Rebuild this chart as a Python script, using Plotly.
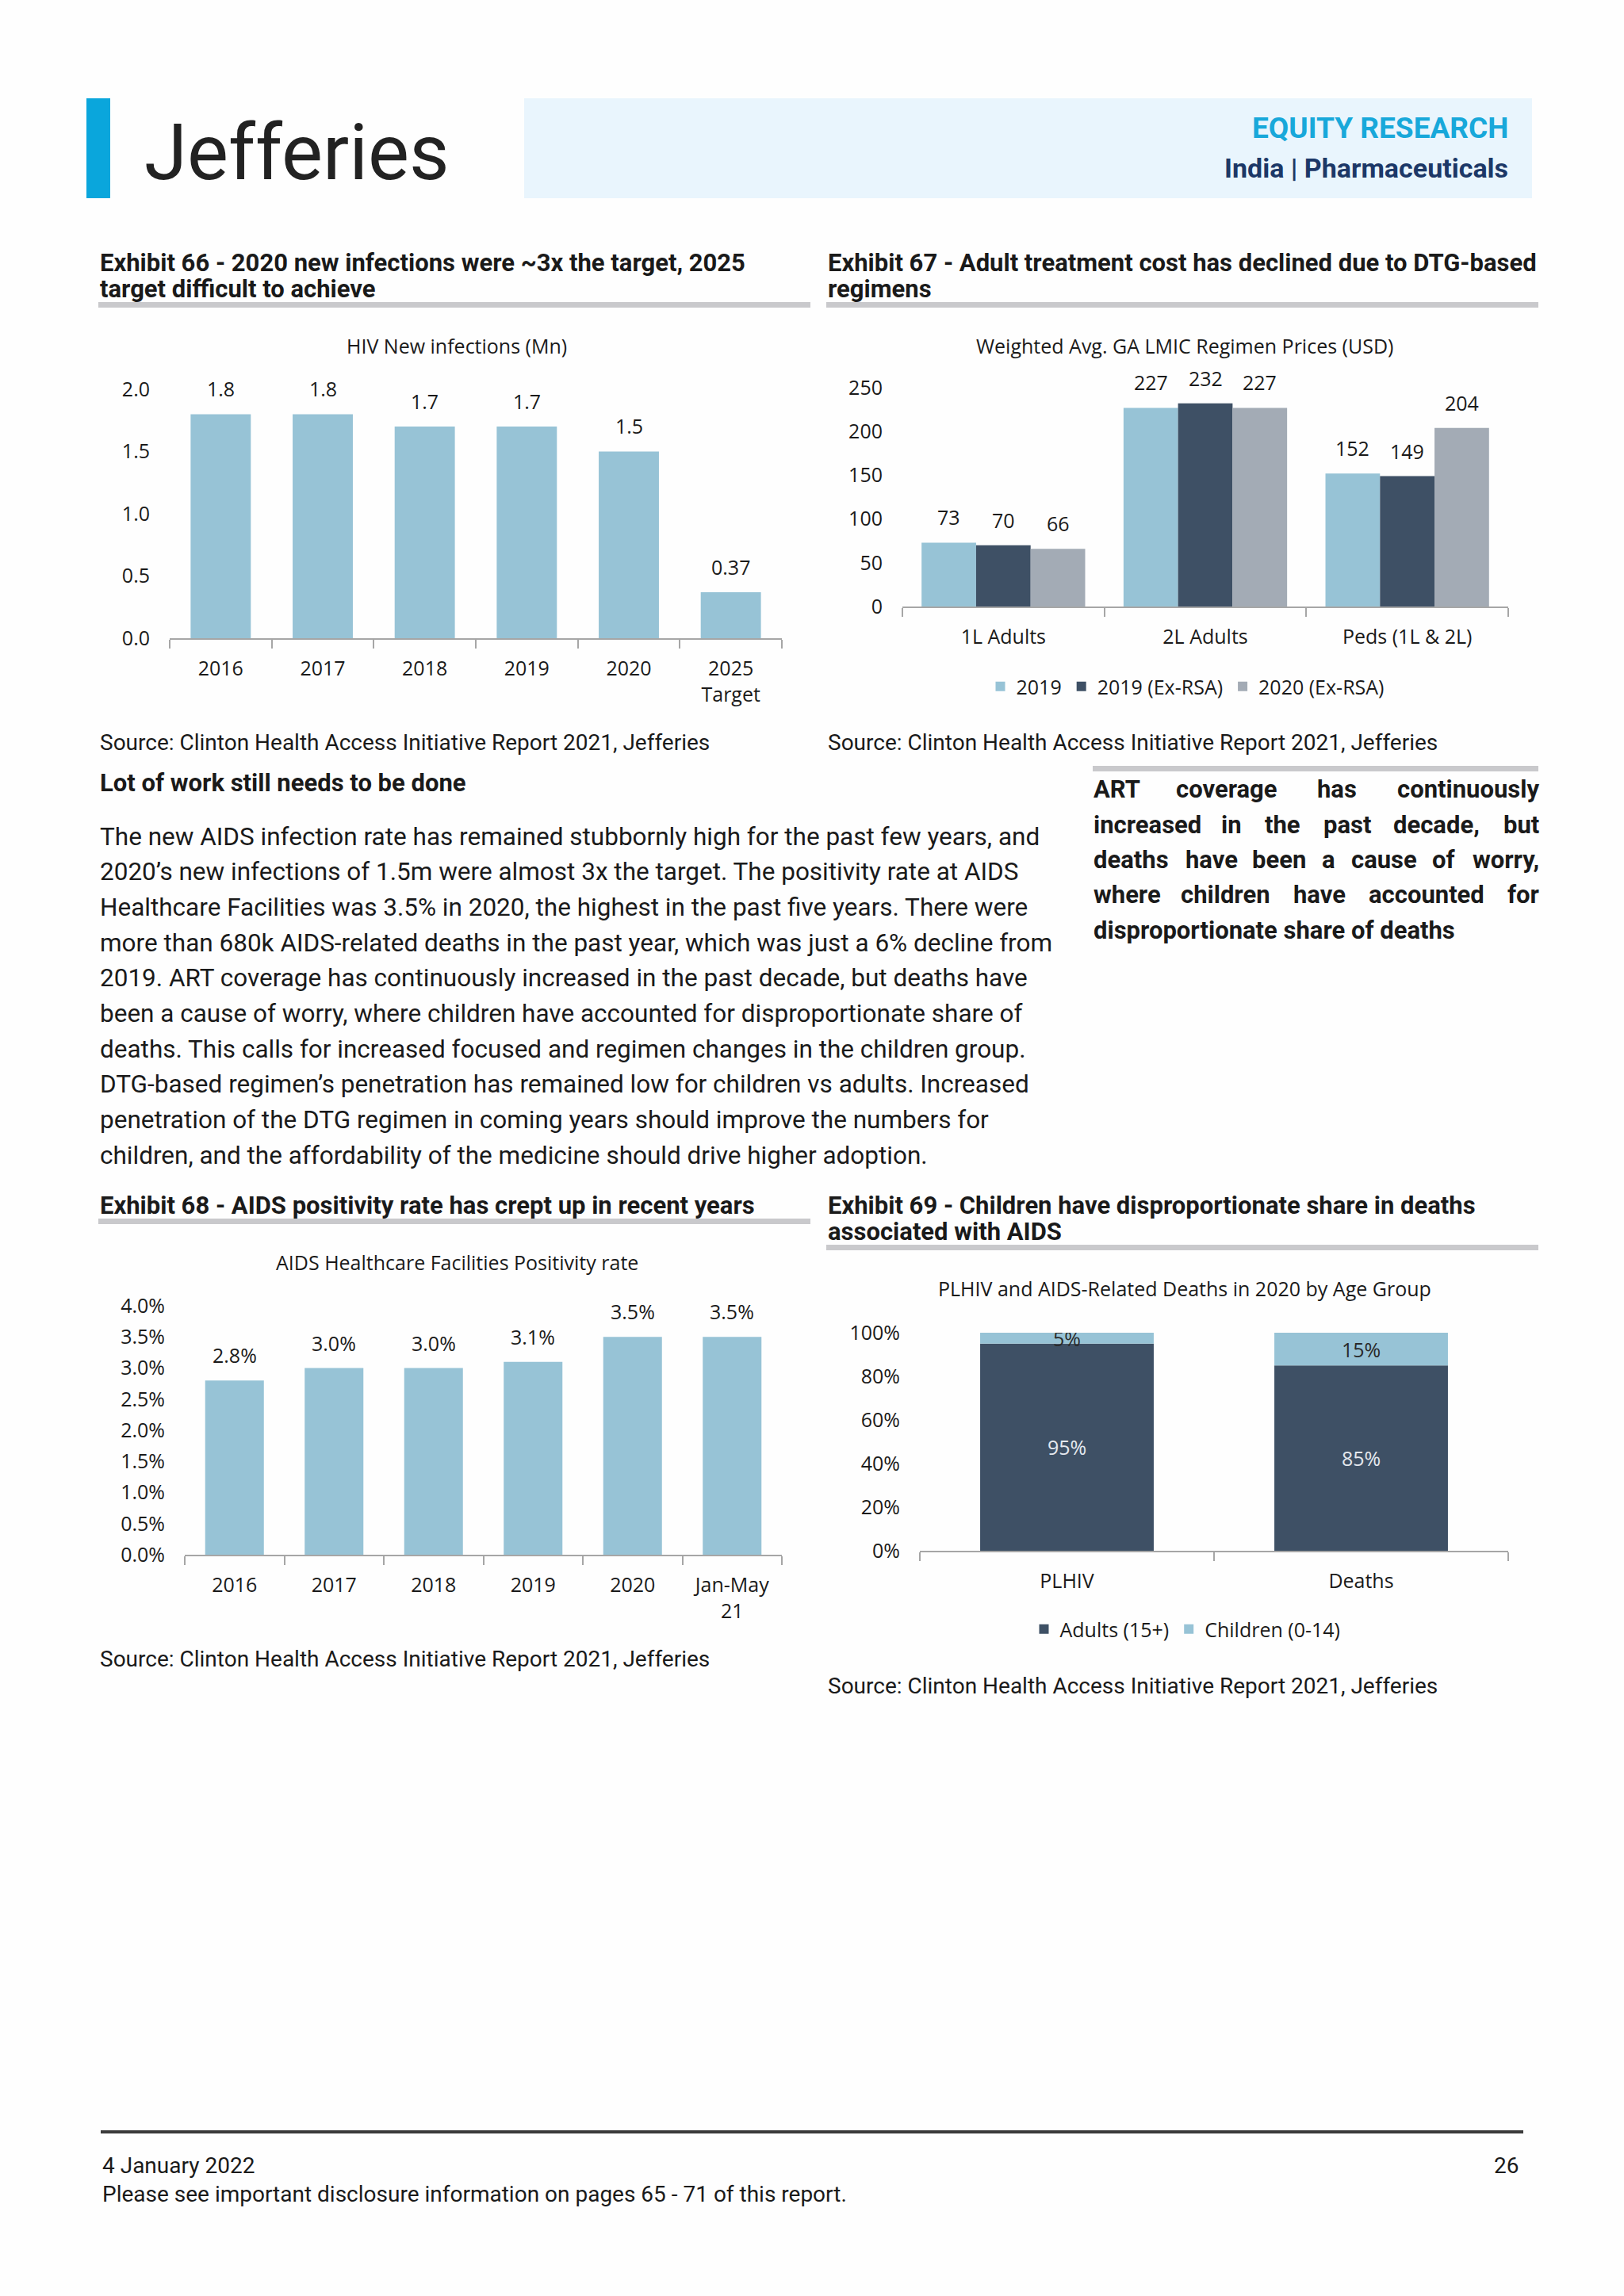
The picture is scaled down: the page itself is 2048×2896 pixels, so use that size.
import plotly.graph_objects as go

# ---------------- data ----------------
inf_years = ['2016', '2017', '2018', '2019', '2020', '2025<br>Target']
inf_values = [1.8, 1.8, 1.7, 1.7, 1.5, 0.37]
inf_labels = ['1.8', '1.8', '1.7', '1.7', '1.5', '0.37']

price_groups = ['1L Adults', '2L Adults', 'Peds (1L & 2L)']
price_2019 = [73, 227, 152]
price_2019_exrsa = [70, 232, 149]
price_2020_exrsa = [66, 227, 204]
price_series = ['2019', '2019 (Ex-RSA)', '2020 (Ex-RSA)']

pos_years = ['2016', '2017', '2018', '2019', '2020', 'Jan-May<br>21']
pos_rates = [0.028, 0.030, 0.030, 0.031, 0.035, 0.035]
pos_labels = ['2.8%', '3.0%', '3.0%', '3.1%', '3.5%', '3.5%']

age_groups = ['PLHIV', 'Deaths']
adults_share = [0.95, 0.85]
children_share = [0.05, 0.15]
age_series = ['Adults (15+)', 'Children (0-14)']

# ---------------- styling ----------------
W, H = 2048, 2896
LIGHT = '#97C3D6'
DARK = '#3E5065'
GREY = '#A3ABB5'
AXIS = '#A6A6A6'
TXT = '#1A1A1A'
CF = 'Open Sans'
BF = 'Roboto'
CS = 25  # chart font size


def px(x):
    return x / W


def py(y):
    return 1 - y / H


fig = go.Figure()

# Chart 1 : HIV new infections
fig.add_trace(go.Bar(x=inf_years, y=inf_values, marker_color=LIGHT, showlegend=False,
                     xaxis='x', yaxis='y', hoverinfo='skip'))
for i, (v, t) in enumerate(zip(inf_values, inf_labels)):
    fig.add_annotation(x=i, y=v, xref='x', yref='y', text=t, showarrow=False,
                       yanchor='bottom', yshift=13, font=dict(family=CF, size=CS, color=TXT))

# Chart 2 : regimen prices (grouped)
bw = 0.27
offsets = [-0.405, -0.135, 0.135]
cols2 = [LIGHT, DARK, GREY]
for name, vals, col, off in zip(price_series, [price_2019, price_2019_exrsa, price_2020_exrsa], cols2, offsets):
    fig.add_trace(go.Bar(x=price_groups, y=vals, name=name, marker_color=col, width=bw, offset=off,
                         xaxis='x2', yaxis='y2', legend='legend', hoverinfo='skip'))
    for i, v in enumerate(vals):
        fig.add_annotation(x=i + off + bw / 2, y=v, xref='x2', yref='y2', text=str(v), showarrow=False,
                           yanchor='bottom', yshift=13,
                           font=dict(family=CF, size=CS, color=TXT))

# Chart 3 : positivity rate
fig.add_trace(go.Bar(x=pos_years, y=pos_rates, marker_color=LIGHT, showlegend=False,
                     xaxis='x3', yaxis='y3', hoverinfo='skip'))
for i, (v, t) in enumerate(zip(pos_rates, pos_labels)):
    fig.add_annotation(x=i, y=v, xref='x3', yref='y3', text=t, showarrow=False,
                       yanchor='bottom', yshift=13, font=dict(family=CF, size=CS, color=TXT))

# Chart 4 : stacked shares
fig.add_trace(go.Bar(x=age_groups, y=adults_share, name=age_series[0], marker_color=DARK,
                     offsetgroup='a', base=[0] * len(adults_share),
                     text=[f'{v:.0%}' for v in adults_share], textposition='inside',
                     insidetextanchor='middle', textangle=0,
                     textfont=dict(family=CF, size=CS, color='#E4E8EE'),
                     xaxis='x4', yaxis='y4', legend='legend2', hoverinfo='skip'))
fig.add_trace(go.Bar(x=age_groups, y=children_share, name=age_series[1], marker_color=LIGHT,
                     offsetgroup='a', base=adults_share,
                     text=[f'{v:.0%}' for v in children_share], textposition='inside',
                     insidetextanchor='middle', textangle=0,
                     textfont=dict(family=CF, size=CS, color='#2A2A2A'),
                     xaxis='x4', yaxis='y4', legend='legend2', hoverinfo='skip'))

xcommon = dict(type='category', showline=True, linecolor=AXIS, linewidth=2, ticks='outside',
               tickson='boundaries', ticklen=11, tickwidth=2, tickcolor=AXIS, showgrid=False,
               zeroline=False, automargin=False, tickangle=0,
               tickfont=dict(family=CF, size=CS, color=TXT), ticklabelstandoff=15, fixedrange=True)
ycommon = dict(showline=False, showgrid=False, zeroline=False, ticks='', automargin=False,
               tickfont=dict(family=CF, size=CS, color=TXT), ticklabelstandoff=24, fixedrange=True)

fig.update_layout(
    template='none',
    width=W, height=H, margin=dict(l=0, r=0, t=0, b=0, pad=0), autosize=False,
    paper_bgcolor='#FEFEFE', plot_bgcolor='rgba(0,0,0,0)',
    barmode='group', bargap=0.41,
    uniformtext=dict(minsize=CS, mode='show'),
    xaxis=dict(domain=[px(214), px(986)], anchor='y', range=[-0.5, len(inf_years) - 0.5], **xcommon),
    yaxis=dict(domain=[py(805), py(491)], anchor='x', range=[0, 2.0], dtick=0.5, tickformat='.1f', **ycommon),
    xaxis2=dict(domain=[px(1138), px(1902)], anchor='y2', range=[-0.5, len(price_groups) - 0.5], **xcommon),
    yaxis2=dict(domain=[py(765), py(489)], anchor='x2', range=[0, 250], dtick=50, **ycommon),
    xaxis3=dict(domain=[px(233), px(986)], anchor='y3', range=[-0.5, len(pos_years) - 0.5], **xcommon),
    yaxis3=dict(domain=[py(1961), py(1647)], anchor='x3', range=[0, 0.04], dtick=0.005, tickformat='.1%', **ycommon),
    xaxis4=dict(domain=[px(1160), px(1902)], anchor='y4', range=[-0.5, len(age_groups) - 0.5], **xcommon),
    yaxis4=dict(domain=[py(1956), py(1681)], anchor='x4', range=[0, 1], dtick=0.2, tickformat='.0%', **ycommon),
    legend=dict(orientation='h', x=px(1496), y=py(866), xanchor='center', yanchor='middle',
                font=dict(family=CF, size=CS, color=TXT), itemwidth=30, bgcolor='rgba(0,0,0,0)',
                traceorder='normal'),
    legend2=dict(orientation='h', x=px(1496), y=py(2055), xanchor='center', yanchor='middle',
                 font=dict(family=CF, size=CS, color=TXT), itemwidth=30, bgcolor='rgba(0,0,0,0)',
                 traceorder='normal'),
)


def rect(x0, y0, x1, y1, color):
    fig.add_shape(type='rect', xref='paper', yref='paper', x0=px(x0), x1=px(x1), y0=py(y1), y1=py(y0),
                  line=dict(width=0), fillcolor=color, layer='below')


def txt(x, y, s, size, color=TXT, bold=False, anchor='left', family=BF):
    fig.add_annotation(x=px(x), y=py(y), xref='paper', yref='paper', text=s, showarrow=False,
                       xanchor=anchor, yanchor='middle',
                       font=dict(family=family, size=size, color=color, weight='bold' if bold else 'normal'))


# ---------------- header ----------------
rect(109, 124, 139, 250, '#0AA6DC')
rect(661, 124, 1932, 250, '#E9F5FD')
txt(180, 192, 'Jefferies', 98, color='#222222', family=BF)
txt(1904, 161, 'EQUITY RESEARCH', 37, color='#18A8DA', bold=True, anchor='right')
txt(1904, 212, 'India | Pharmaceuticals', 34, color='#1C3867', bold=True, anchor='right')

# ---------------- exhibit titles & rules ----------------
RULE = '#C9C9CC'
TS = 31
txt(124, 331, 'Exhibit 66 - 2020 new infections were ~3x the target, 2025', TS, bold=True)
txt(124, 364, 'target difficult to achieve', TS, bold=True)
rect(124, 381, 1022, 388, RULE)
txt(1042, 331, 'Exhibit 67 - Adult treatment cost has declined due to DTG-based', TS, bold=True)
txt(1042, 364, 'regimens', TS, bold=True)
rect(1042, 381, 1940, 388, RULE)

txt(576, 436, 'HIV New infections (Mn)', CS, family=CF, anchor='center')
txt(1494, 436, 'Weighted Avg. GA LMIC Regimen Prices (USD)', CS, family=CF, anchor='center')

SRC = 'Source: Clinton Health Access Initiative Report 2021, Jefferies'
SS = 28
txt(124, 936, SRC, SS)
txt(1042, 936, SRC, SS)

# ---------------- body text ----------------
txt(124, 988, 'Lot of work still needs to be done', TS, bold=True)
body_lines = [
    'The new AIDS infection rate has remained stubbornly high for the past few years, and',
    '2020\u2019s new infections of 1.5m were almost 3x the target. The positivity rate at AIDS',
    'Healthcare Facilities was 3.5% in 2020, the highest in the past five years. There were',
    'more than 680k AIDS-related deaths in the past year, which was just a 6% decline from',
    '2019. ART coverage has continuously increased in the past decade, but deaths have',
    'been a cause of worry, where children have accounted for disproportionate share of',
    'deaths. This calls for increased focused and regimen changes in the children group.',
    'DTG-based regimen\u2019s penetration has remained low for children vs adults. Increased',
    'penetration of the DTG regimen in coming years should improve the numbers for',
    'children, and the affordability of the medicine should drive higher adoption.',
]
for i, line in enumerate(body_lines):
    txt(124, 1055 + i * 44.7, line, 31.5)

# sidebar (justified: words placed individually)
rect(1378, 966, 1940, 973, RULE)
side = [
    (995, [('ART', 1377, 'left'), ('coverage', 1547, 'center'), ('has', 1686, 'center'),
           ('continuously', 1943, 'right')]),
    (1040, [('increased', 1377, 'left'), ('in', 1553, 'center'), ('the', 1617, 'center'),
            ('past', 1699, 'center'), ('decade,', 1811, 'center'), ('but', 1943, 'right')]),
    (1084, [('deaths', 1377, 'left'), ('have', 1528, 'center'), ('been', 1613, 'center'),
            ('a', 1675, 'center'), ('cause', 1745, 'center'), ('of', 1820, 'center'),
            ('worry,', 1943, 'right')]),
    (1128, [('where', 1377, 'left'), ('children', 1545, 'center'), ('have', 1664, 'center'),
            ('accounted', 1799, 'center'), ('for', 1943, 'right')]),
    (1173, [('disproportionate share of deaths', 1377, 'left')]),
]
for y, words in side:
    for w, x, a in words:
        txt(x, y, w, 31, bold=True, anchor=a)

# ---------------- lower exhibits ----------------
txt(124, 1520, 'Exhibit 68 - AIDS positivity rate has crept up in recent years', TS, bold=True)
rect(124, 1537, 1022, 1544, RULE)
txt(1042, 1520, 'Exhibit 69 - Children have disproportionate share in deaths', TS, bold=True)
txt(1042, 1553, 'associated with AIDS', TS, bold=True)
rect(1042, 1570, 1940, 1577, RULE)

txt(576, 1592, 'AIDS Healthcare Facilities Positivity rate', CS, family=CF, anchor='center')
txt(1494, 1625, 'PLHIV and AIDS-Related Deaths in 2020 by Age Group', CS, family=CF, anchor='center')

txt(124, 2092, SRC, SS)
txt(1042, 2126, SRC, SS)

# ---------------- footer ----------------
rect(127, 2687, 1921, 2691, '#3A3A3A')
txt(127, 2731, '4 January 2022', SS)
txt(1917, 2731, '26', SS, anchor='right')
txt(127, 2767, 'Please see important disclosure information on pages 65 - 71 of this report.', SS)

fig.write_html('out.html', config={'displayModeBar': False},
               post_script="document.body.style.margin='0';document.body.style.overflow='hidden';")
